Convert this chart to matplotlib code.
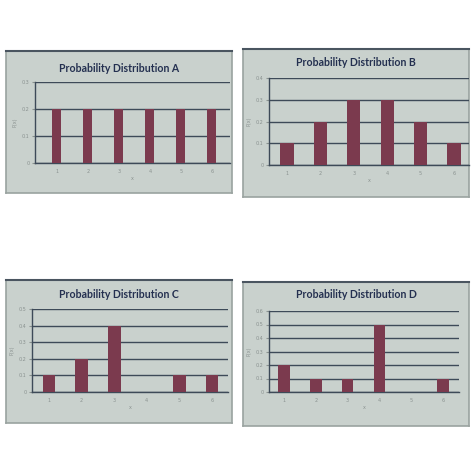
import matplotlib.pyplot as plt

x_vals = [1, 2, 3, 4, 5, 6]
p_a = [0.2, 0.2, 0.2, 0.2, 0.2, 0.2]
p_b = [0.1, 0.2, 0.3, 0.3, 0.2, 0.1]
p_c = [0.1, 0.2, 0.4, 0.0, 0.1, 0.1]
p_d = [0.2, 0.1, 0.1, 0.5, 0.0, 0.1]
titles = ['Probability Distribution A', 'Probability Distribution B',
          'Probability Distribution C', 'Probability Distribution D']
y_max = [0.3, 0.4, 0.5, 0.6]

W, H = 474, 475
fig = plt.figure(figsize=(W / 100, H / 100), dpi=100)
fig.patch.set_facecolor('white')


def box(x0, y0, x1, y1):
    # pixel box -> figure coords
    return [x0 / W, 1 - y1 / H, (x1 - x0) / W, (y1 - y0) / H]


# frame, plot area, title y, bar width, xlim
panels = [
    (p_a, (6, 51, 232, 193), (35, 82, 230, 163), 68, 0.29, (0.3, 6.58)),
    (p_b, (243, 49, 469, 197), (269, 78, 469, 165), 63, 0.40, (0.46, 6.45)),
    (p_c, (6, 280, 232, 423), (32, 309, 228, 392), 294, 0.39, (0.48, 6.49)),
    (p_d, (243, 282, 469, 426), (269, 311, 459, 392), 295, 0.37, (0.53, 6.5)),
]

bg = '#c9d1cd'
bar_col = '#7b3a4e'
grid_col = '#3d4a58'
tick_col = '#8a9290'

for i, (vals, fr, pa, ty, bw, xl) in enumerate(panels):
    frame = fig.add_axes(box(*fr))
    frame.set_facecolor(bg)
    frame.set_xticks([])
    frame.set_yticks([])
    for s in frame.spines.values():
        s.set_color('#9aa3a0')
        s.set_linewidth(1.2)
    frame.spines['top'].set_color('#4a5560')
    frame.spines['top'].set_linewidth(1.5)

    fig.text((fr[0] + fr[2]) / 2 / W, 1 - ty / H, titles[i], ha='center', va='center',
             fontsize=7.6, fontweight='bold', color='#243050', family='Lato')

    ax = fig.add_axes(box(*pa))
    ax.patch.set_alpha(0)
    ax.bar(x_vals, vals, width=bw, color=bar_col, zorder=3)
    ax.set_xlim(*xl)
    ax.set_ylim(0, y_max[i])
    yt = [k / 10 for k in range(int(round(y_max[i] * 10)) + 1)]
    ax.set_yticks(yt)
    ax.set_yticklabels(['0'] + [f'{v:.1f}' for v in yt[1:]])
    ax.set_xticks(x_vals)
    ax.grid(axis='y', color=grid_col, linewidth=1.0, zorder=1)
    ax.tick_params(labelsize=3.5, colors=tick_col, length=2, pad=2)
    ax.tick_params(axis='x', length=0, pad=4)
    for s in ['top', 'right']:
        ax.spines[s].set_visible(False)
    for s in ['left', 'bottom']:
        ax.spines[s].set_color(grid_col)
        ax.spines[s].set_linewidth(1.0)
    ax.set_xlabel('x', fontsize=3.5, color=tick_col, labelpad=2)
    ax.set_ylabel('P(x)', fontsize=3.5, color=tick_col, labelpad=3)

fig.savefig('out.png', dpi=100, facecolor='white')
